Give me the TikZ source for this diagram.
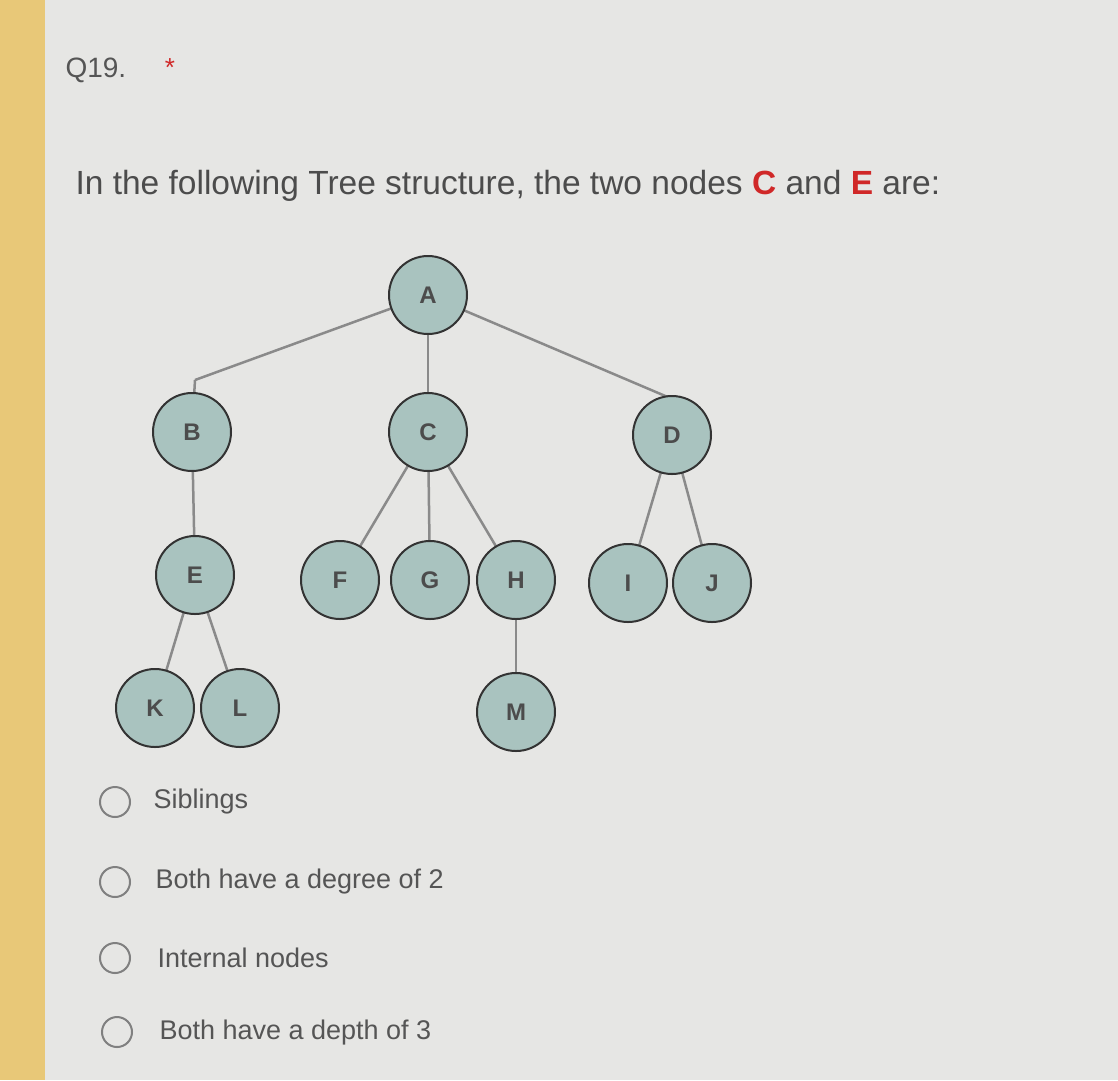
\documentclass[tikz,border=0pt]{standalone}
\usepackage{fontspec}
\setmainfont{Liberation Sans}
\definecolor{bg}{HTML}{E6E6E4}
\definecolor{strip}{HTML}{E8C878}
\definecolor{nodefill}{HTML}{A9C3BF}
\definecolor{edge}{HTML}{8A8A8A}
\definecolor{txt}{HTML}{555555}
\definecolor{redc}{HTML}{D02828}
\begin{document}
\begin{tikzpicture}[x=1pt,y=-1pt,
  tn/.style={circle,draw=black!80,line width=2pt,fill=nodefill,minimum size=78pt,inner sep=0pt,font=\fontsize{24}{24}\selectfont\bfseries,text=black!70},
  ln/.style={edge,line width=2.5pt},
  radio/.style={circle,draw=gray,line width=2pt,minimum size=30pt,inner sep=0pt},
  opt/.style={anchor=west,font=\fontsize{27}{30}\selectfont,text=txt}]
\useasboundingbox (0,0) rectangle (1118,1080);
\fill[bg] (0,0) rectangle (1118,1080);
\fill[strip] (0,0) rectangle (45,1080);
\node[anchor=west,font=\fontsize{28}{30}\selectfont,text=txt] (q) at (62,70) {Q19.};
\node[text=redc,font=\fontsize{26}{26}\selectfont] (ast) at (170,68) {*};
\node[anchor=west,font=\fontsize{33.5}{36}\selectfont,text=black!70] (title) at (72,186) {In the following Tree structure, the two nodes \textcolor{redc}{\textbf{C}} and \textcolor{redc}{\textbf{E}} are:};
\coordinate (A0) at (428,295);
\draw[ln] (A0) -- (195,380);
\draw[ln] (A0) -- (670,398);
\draw[ln] (A0) -- (428,432);
\draw[ln] (195,380) -- (192,432);
\draw[ln] (670,398) -- (672,435);
\draw[ln] (192,432) -- (195,575);
\draw[ln] (428,432) -- (340,580);
\draw[ln] (428,432) -- (430,580);
\draw[ln] (428,432) -- (516,580);
\draw[ln] (672,435) -- (628,583);
\draw[ln] (672,435) -- (712,583);
\draw[ln] (195,575) -- (155,708);
\draw[ln] (195,575) -- (240,708);
\draw[ln] (516,580) -- (516,712);
\node[tn] (A) at (428,295) {A};
\node[tn] (B) at (192,432) {B};
\node[tn] (C) at (428,432) {C};
\node[tn] (D) at (672,435) {D};
\node[tn] (E) at (195,575) {E};
\node[tn] (F) at (340,580) {F};
\node[tn] (G) at (430,580) {G};
\node[tn] (H) at (516,580) {H};
\node[tn] (I) at (628,583) {I};
\node[tn] (J) at (712,583) {J};
\node[tn] (K) at (155,708) {K};
\node[tn] (L) at (240,708) {L};
\node[tn] (M) at (516,712) {M};
\node[radio] (r1) at (115,802) {};
\node[radio] (r2) at (115,882) {};
\node[radio] (r3) at (115,958) {};
\node[radio] (r4) at (117,1032) {};
\node[opt] (o1) at (150,802) {Siblings};
\node[opt] (o2) at (152,882) {Both have a degree of 2};
\node[opt] (o3) at (154,958) {Internal nodes};
\node[opt] (o4) at (156,1032) {Both have a depth of 3};
\end{tikzpicture}
\end{document}
